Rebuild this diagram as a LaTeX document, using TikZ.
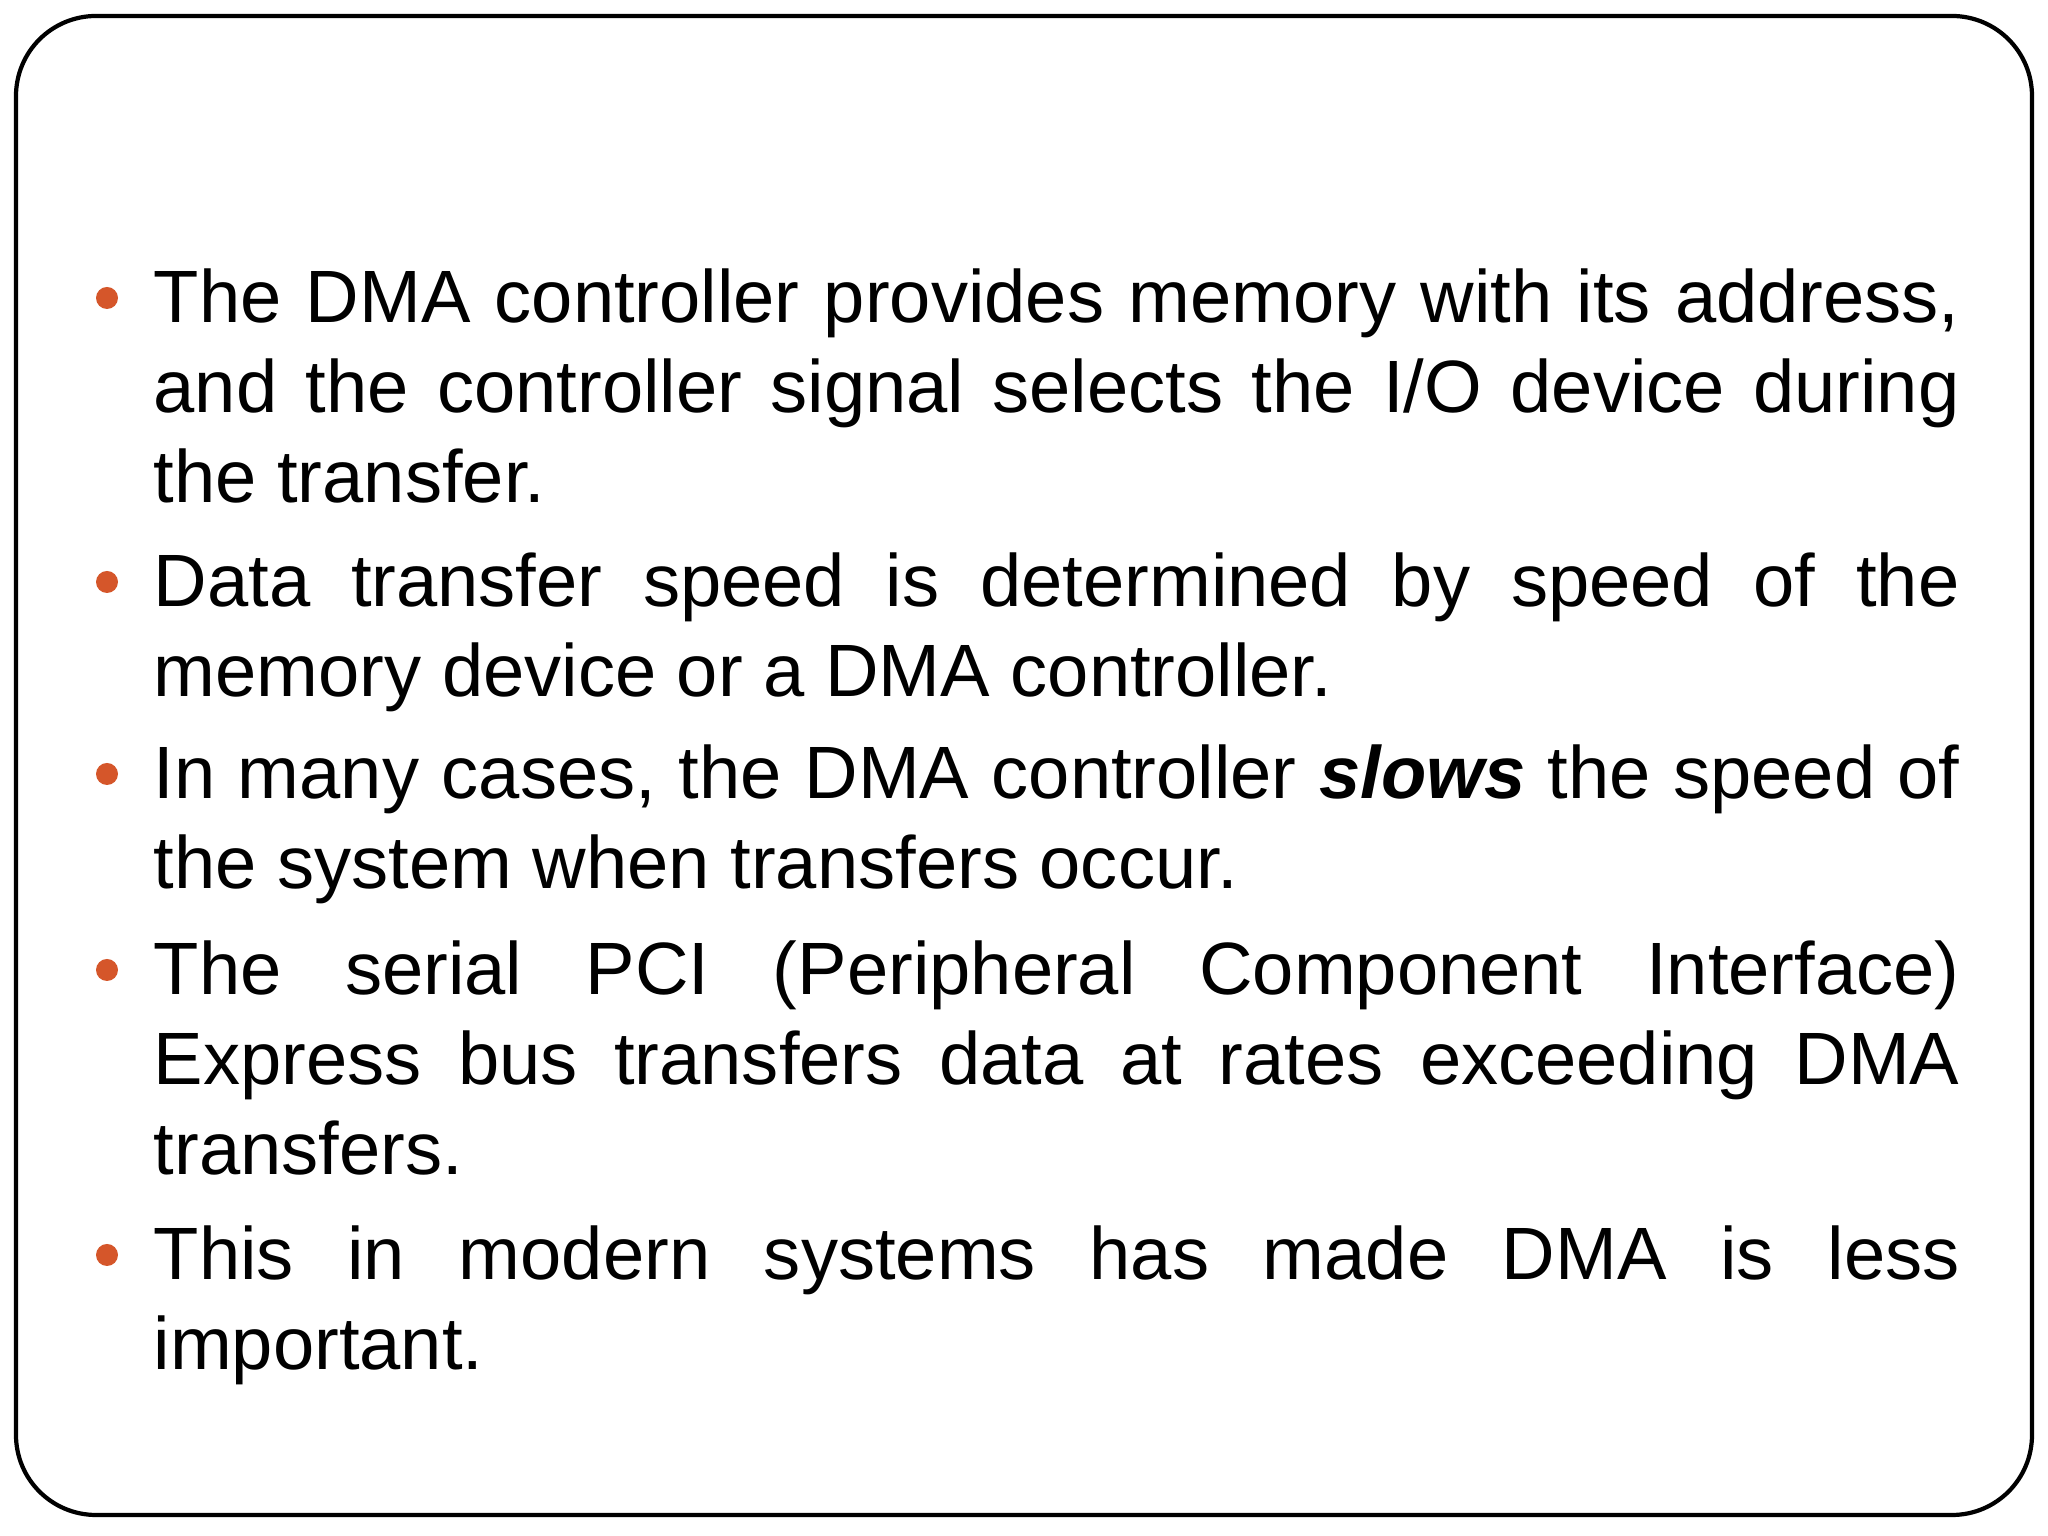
\documentclass[tikz,border=0pt]{standalone}
\usepackage{fontspec}
\setmainfont{Liberation Sans}
\definecolor{bul}{HTML}{D5562A}
\begin{document}
\begin{tikzpicture}[x=1cm,y=1cm,
  para/.style={anchor=north west,inner sep=0pt,text width=18.06cm,align=justify,
    font=\fontsize{21.1pt}{25.6pt}\selectfont},
  dot/.style={circle,fill=bul,inner sep=0pt,minimum size=0.22cm}]
\useasboundingbox (0,0) rectangle (20.48,15.36);
\fill[white] (0,0) rectangle (20.48,15.36);
\draw[line width=1.2pt,rounded corners=0.8cm] (0.16,0.21) rectangle (20.32,15.2);
\foreach \y/\n in {12.13/a,9.29/b,7.37/c,5.41/d,2.56/e}{
  \node[dot] (b\n) at (1.07,\y+0.25) {};
}
\node[para] (pa) at (1.53,12.13+0.55) {The DMA controller provides memory with its address,\linebreak and the controller signal selects the I/O device during\linebreak the transfer.};
\node[para] (pb) at (1.53,9.29+0.55) {Data transfer speed is determined by speed of the\linebreak memory device or a DMA controller.};
\node[para] (pc) at (1.53,7.37+0.55) {In many cases, the DMA controller \textbf{\textit{slows}} the speed of\linebreak the system when transfers occur.};
\node[para] (pd) at (1.53,5.41+0.55) {The serial PCI (Peripheral Component Interface)\linebreak Express bus transfers data at rates exceeding DMA\linebreak transfers.};
\node[para] (pe) at (1.53,2.56+0.55) {This in modern systems has made DMA is less\linebreak important.};
\end{tikzpicture}
\end{document}
